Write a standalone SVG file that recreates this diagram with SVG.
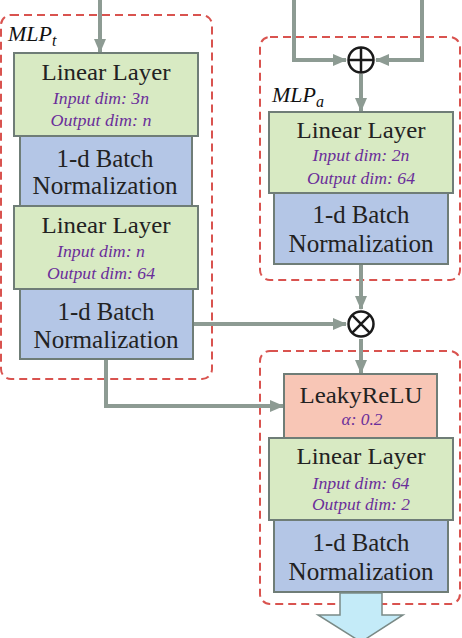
<svg xmlns="http://www.w3.org/2000/svg" width="462" height="638" viewBox="0 0 462 638">
<defs>
<marker id="ah" markerUnits="userSpaceOnUse" markerWidth="14" markerHeight="14" viewBox="0 0 14 14" refX="13" refY="7" orient="auto">
<path d="M0,1 L14,7 L0,13 Z" fill="#8d9b93"/>
</marker>
</defs>
<style>
.grp{fill:none;stroke:#d9534f;stroke-width:2;stroke-dasharray:8 5}
.ll{fill:#d8eac3;stroke:#6f7d77;stroke-width:2}
.bn{fill:#b4c6e6;stroke:#6f7d77;stroke-width:2}
.lr{fill:#f8c6b6;stroke:#6f7d77;stroke-width:2}
.t{fill:#222;text-anchor:middle}
.big{font-size:24px}
.bnt{font-size:25px}
.it{font-style:italic;font-size:17px;fill:#6a2e9a;text-anchor:middle}
.lab{font-style:italic;font-size:22px;fill:#111}
.con{fill:none;stroke:#8d9b93;stroke-width:4}
.op{fill:#fff;stroke:#1a1a1a;stroke-width:2.5}
</style>

<g id="groups">
<rect class="grp" x="1" y="15" width="211" height="364" rx="10"/>
<rect class="grp" x="260" y="37" width="200" height="243" rx="10"/>
<rect class="grp" x="260" y="351" width="200" height="253" rx="10"/>
<text class="lab" font-family="Liberation Serif" x="8" y="41">MLP<tspan font-size="16" dy="5">t</tspan></text>
<text class="lab" font-family="Liberation Serif" x="272" y="102">MLP<tspan font-size="16" dy="5">a</tspan></text>
</g>

<g id="connectors">
<path class="con" d="M100,0 V52" marker-end="url(#ah)"/>
<path class="con" d="M294,0 V60 H346" marker-end="url(#ah)"/>
<path class="con" d="M422,0 V60 H376" marker-end="url(#ah)"/>
<path class="con" d="M361,74 V111" marker-end="url(#ah)"/>
<path class="con" d="M361,265 V309" marker-end="url(#ah)"/>
<path class="con" d="M193,324 H346" marker-end="url(#ah)"/>
<path class="con" d="M361,339 V373" marker-end="url(#ah)"/>
<path class="con" d="M106,360 V406 H283" marker-end="url(#ah)"/>
</g>

<g id="mlpt-linear1">
<rect class="ll" x="14" y="53" width="184" height="83"/>
<text class="t big" font-family="Liberation Serif" x="106" y="80" textLength="129" lengthAdjust="spacingAndGlyphs">Linear Layer</text>
<text class="it" font-family="Liberation Serif" x="101" y="104" textLength="96" lengthAdjust="spacingAndGlyphs">Input dim: 3n</text>
<text class="it" font-family="Liberation Serif" x="101" y="126" textLength="101" lengthAdjust="spacingAndGlyphs">Output dim: n</text>
</g>
<g id="mlpt-bn1">
<rect class="bn" x="20" y="136" width="172" height="70"/>
<text class="t bnt" font-family="Liberation Serif" x="105" y="167" textLength="97" lengthAdjust="spacingAndGlyphs">1-d Batch</text>
<text class="t bnt" font-family="Liberation Serif" x="105" y="194" textLength="145" lengthAdjust="spacingAndGlyphs">Normalization</text>
</g>
<g id="mlpt-linear2">
<rect class="ll" x="14" y="206" width="184" height="83"/>
<text class="t big" font-family="Liberation Serif" x="106" y="233" textLength="129" lengthAdjust="spacingAndGlyphs">Linear Layer</text>
<text class="it" font-family="Liberation Serif" x="101" y="257" textLength="88" lengthAdjust="spacingAndGlyphs">Input dim: n</text>
<text class="it" font-family="Liberation Serif" x="101" y="279" textLength="108" lengthAdjust="spacingAndGlyphs">Output dim: 64</text>
</g>
<g id="mlpt-bn2">
<rect class="bn" x="20" y="289" width="173" height="70"/>
<text class="t bnt" font-family="Liberation Serif" x="106" y="320" textLength="97" lengthAdjust="spacingAndGlyphs">1-d Batch</text>
<text class="t bnt" font-family="Liberation Serif" x="106" y="348" textLength="145" lengthAdjust="spacingAndGlyphs">Normalization</text>
</g>

<g id="add">
<circle class="op" cx="361" cy="60" r="12.5"/>
<path d="M348.5,60 H373.5 M361,47.5 V72.5" stroke="#1a1a1a" stroke-width="2.5"/>
</g>

<g id="mlpa-linear">
<rect class="ll" x="269" y="112" width="184" height="81"/>
<text class="t big" font-family="Liberation Serif" x="361" y="138" textLength="129" lengthAdjust="spacingAndGlyphs">Linear Layer</text>
<text class="it" font-family="Liberation Serif" x="361" y="161" textLength="97" lengthAdjust="spacingAndGlyphs">Input dim: 2n</text>
<text class="it" font-family="Liberation Serif" x="361" y="184" textLength="108" lengthAdjust="spacingAndGlyphs">Output dim: 64</text>
</g>
<g id="mlpa-bn">
<rect class="bn" x="274" y="193" width="174" height="71"/>
<text class="t bnt" font-family="Liberation Serif" x="361" y="223" textLength="97" lengthAdjust="spacingAndGlyphs">1-d Batch</text>
<text class="t bnt" font-family="Liberation Serif" x="361" y="252" textLength="145" lengthAdjust="spacingAndGlyphs">Normalization</text>
</g>

<g id="mul">
<circle class="op" cx="361" cy="324" r="12.5"/>
<path d="M352.2,315.2 L369.8,332.8 M369.8,315.2 L352.2,332.8" stroke="#1a1a1a" stroke-width="2.5"/>
</g>

<g id="leakyrelu">
<rect class="lr" x="284" y="374" width="153" height="64"/>
<text class="t big" font-family="Liberation Serif" x="361" y="403" textLength="123" lengthAdjust="spacingAndGlyphs">LeakyReLU</text>
<text class="it" font-family="Liberation Serif" x="362" y="425" textLength="41" lengthAdjust="spacingAndGlyphs">α: 0.2</text>
</g>
<g id="out-linear">
<rect class="ll" x="269" y="438" width="184" height="82"/>
<text class="t big" font-family="Liberation Serif" x="361" y="464" textLength="129" lengthAdjust="spacingAndGlyphs">Linear Layer</text>
<text class="it" font-family="Liberation Serif" x="361" y="489" textLength="97" lengthAdjust="spacingAndGlyphs">Input dim: 64</text>
<text class="it" font-family="Liberation Serif" x="361" y="510" textLength="98" lengthAdjust="spacingAndGlyphs">Output dim: 2</text>
</g>
<g id="out-bn">
<rect class="bn" x="274" y="520" width="174" height="72"/>
<text class="t bnt" font-family="Liberation Serif" x="361" y="551" textLength="97" lengthAdjust="spacingAndGlyphs">1-d Batch</text>
<text class="t bnt" font-family="Liberation Serif" x="361" y="580" textLength="145" lengthAdjust="spacingAndGlyphs">Normalization</text>
</g>

<g id="output-arrow">
<path d="M340,593 H382 V615 H403 L361,642 L318,615 H340 Z" fill="#c4ebf8" stroke="#7a8a86" stroke-width="1.5"/>
</g>
</svg>
